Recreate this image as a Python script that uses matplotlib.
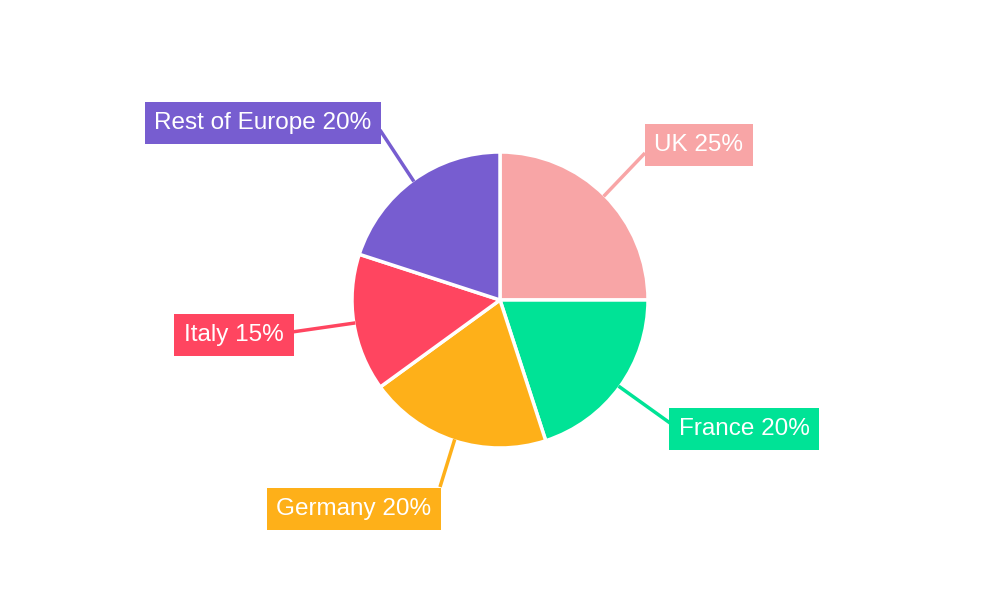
#!/usr/bin/env python3
"""Pie chart of sales share by region with boxed labels."""

import numpy as np
import matplotlib

matplotlib.use("Agg")
import matplotlib.pyplot as plt

plt.rcParams["font.family"] = ["Liberation Sans", "DejaVu Sans"]

regions = ["UK", "France", "Germany", "Italy", "Rest of Europe"]
shares = [25, 20, 20, 15, 20]
colors = ["#F8A5A6", "#00E396", "#FEB019", "#FF4560", "#775DD0"]

# label box centres and leader-line ends, pixel space (origin top-left)
label_pos = {
    "UK": (699, 145),
    "France": (744, 429),
    "Germany": (354, 509),
    "Italy": (234, 335),
    "Rest of Europe": (263, 123),
}
line_end = {
    "UK": (645, 153),
    "France": (670, 423),
    "Germany": (440, 487),
    "Italy": (292, 332),
    "Rest of Europe": (380, 130),
}

W, H = 1000, 600
cx, cy, r = 500, 300, 148

fig = plt.figure(figsize=(10, 6), dpi=100)
ax = fig.add_axes([0, 0, 1, 1])

wedges, _ = ax.pie(
    shares,
    colors=colors,
    startangle=90,
    counterclock=False,
    center=(cx, H - cy),
    radius=r,
    wedgeprops=dict(edgecolor="white", linewidth=2.5),
)
ax.set_xlim(0, W)
ax.set_ylim(0, H)
ax.set_aspect("equal")
ax.axis("off")

for w, name, val, col in zip(wedges, regions, shares, colors):
    mid = np.deg2rad((w.theta1 + w.theta2) / 2)
    ex = cx + r * 0.99 * np.cos(mid)
    ey = (H - cy) + r * 0.99 * np.sin(mid)
    lx, ly = line_end[name]
    ax.plot([ex, lx], [ey, H - ly], color=col, lw=2.5, zorder=1,
            solid_capstyle="butt")
    tx, ty = label_pos[name]
    ax.text(
        tx, H - ty,
        f"{name} {val}%",
        ha="center",
        va="center",
        fontsize=17.5,
        color="white",
        zorder=3,
        bbox=dict(boxstyle="square,pad=0.4", fc=col, ec="none"),
    )

fig.savefig("out.png", dpi=100)
